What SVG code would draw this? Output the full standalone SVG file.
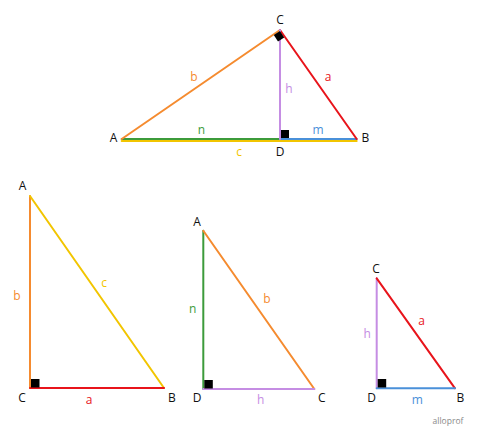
<svg xmlns="http://www.w3.org/2000/svg" width="480" height="438" viewBox="0 0 480 438">
<style>
.e{stroke-width:2;fill:none;stroke-linecap:round}
.o{stroke:#f58b2f}.r{stroke:#e8141b}.y{stroke:#f2c500}.g{stroke:#3c9b3b}.bl{stroke:#4a90d9}.p{stroke:#c58de3}
text{font-family:"Open Sans","Liberation Sans",sans-serif;font-size:12px;font-weight:500;text-anchor:middle;dominant-baseline:central}
.k{fill:#111}.to{fill:#f58b2f}.tr{fill:#e8141b}.ty{fill:#f2c500}.tg{fill:#3c9b3b}.tb{fill:#4a90d9}.tp{fill:#c58de3}
.sq{fill:#000}
</style>
<rect width="480" height="438" fill="#fff"/>
<g id="connectors">
<line class="e y" x1="121.7" y1="141" x2="356.7" y2="141"/>
<line class="e g" x1="121.7" y1="139" x2="280" y2="139"/>
<line class="e bl" x1="280" y1="139" x2="356.7" y2="139"/>
<line class="e o" x1="121.7" y1="139" x2="280" y2="30"/>
<line class="e r" x1="280" y1="30" x2="356.7" y2="139"/>
<line class="e p" x1="280" y1="30" x2="280" y2="139"/>
<line class="e o" x1="30" y1="196" x2="30" y2="388"/>
<line class="e y" x1="30" y1="196" x2="164" y2="388"/>
<line class="e r" x1="30" y1="388" x2="164" y2="388"/>
<line class="e g" x1="203.3" y1="230.7" x2="203.3" y2="389"/>
<line class="e o" x1="203.3" y1="230.7" x2="314.3" y2="389"/>
<line class="e p" x1="203.3" y1="389" x2="314.3" y2="389"/>
<line class="e p" x1="376.7" y1="278.3" x2="376.7" y2="388.3"/>
<line class="e r" x1="376.7" y1="278.3" x2="455" y2="388.3"/>
<line class="e bl" x1="376.7" y1="388.3" x2="455" y2="388.3"/>
</g>
<g id="top-triangle">
<polygon class="sq" points="280,31 273.8,35 278,41.5 284.2,37.4"/>
<rect class="sq" x="281" y="130" width="8" height="8"/>
<text class="k" x="280" y="19.5">C</text>
<text class="k" x="113.5" y="137.5">A</text>
<text class="k" x="365.5" y="137.5">B</text>
<text class="k" x="280" y="151.5">D</text>
<text class="to" x="194" y="76">b</text>
<text class="tp" x="289" y="88">h</text>
<text class="tr" x="328" y="76">a</text>
<text class="tg" x="201.5" y="129">n</text>
<text class="tb" x="318" y="129">m</text>
<text class="ty" x="239" y="151">c</text>
</g>
<g id="triangle-ACB">
<rect class="sq" x="31" y="379" width="8.5" height="8.5"/>
<text class="k" x="22.5" y="185">A</text>
<text class="k" x="22" y="397.5">C</text>
<text class="k" x="172" y="397.5">B</text>
<text class="to" x="17" y="295">b</text>
<text class="ty" x="104" y="282">c</text>
<text class="tr" x="89" y="399">a</text>
</g>
<g id="triangle-ADC">
<rect class="sq" x="204.3" y="380" width="8.5" height="8.5"/>
<text class="k" x="197" y="221.5">A</text>
<text class="k" x="197" y="397">D</text>
<text class="k" x="321.7" y="397">C</text>
<text class="tg" x="192.7" y="308">n</text>
<text class="to" x="267" y="298">b</text>
<text class="tp" x="260.7" y="399.5">h</text>
</g>
<g id="triangle-CDB">
<rect class="sq" x="377.7" y="379" width="8.5" height="8.5"/>
<text class="k" x="376" y="268">C</text>
<text class="k" x="371.5" y="397">D</text>
<text class="k" x="460.5" y="397">B</text>
<text class="tp" x="367.3" y="333">h</text>
<text class="tr" x="421.7" y="320">a</text>
<text class="tb" x="417.3" y="399">m</text>
<text x="448" y="420.5" style="font-size:8.5px;fill:#8a8a8a">alloprof</text>
</g>
</svg>
